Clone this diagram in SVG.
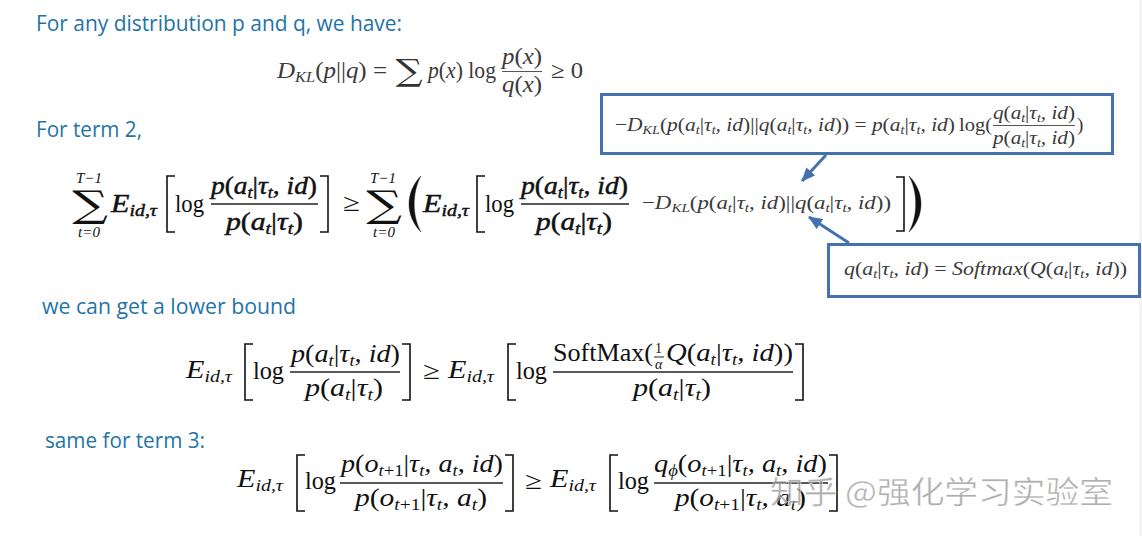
<svg xmlns="http://www.w3.org/2000/svg" width="1142" height="536" viewBox="0 0 1142 536">
<style>
text{font-family:"Liberation Serif","Times New Roman",serif;fill:#111;white-space:pre}
.h{font-family:"Open Sans","Noto Sans",sans-serif;font-size:22px;fill:#1f74a7}
.m{font-size:25px;font-style:italic}
.b{font-size:25px;font-style:italic;stroke:#111;stroke-width:.45}
.l{font-size:19px;font-style:italic;fill:#3a3a3a}
.e1{font-size:23px;font-style:italic;fill:#3a3a3a}
.r{font-size:25px}
.lim{font-size:15px;font-style:italic;text-anchor:middle}
.sig{font-size:50px;text-anchor:middle;font-family:"DejaVu Serif",serif}
.u{font-style:normal}
.s{font-size:66%}
.bar{stroke:#222;stroke-width:1.3;fill:none}
.lt{stroke:#555;stroke-width:1.1;fill:none}
.br{stroke:#111;stroke-width:1.6;fill:none}
.box{fill:#fff;stroke:#4472b0;stroke-width:3}
.arr{stroke:#4472b0;stroke-width:3;fill:none;marker-end:url(#ah)}
.wm{font-family:"Noto Sans CJK SC",sans-serif;font-size:31px;fill:#8c8c8c;fill-opacity:.7;stroke:#fff;stroke-width:.4}
</style>
<defs>
<marker id="ah" markerUnits="userSpaceOnUse" markerWidth="14" markerHeight="12" refX="13" refY="6" orient="auto"><path d="M0 0L14 6L0 12z" fill="#4472b0"/></marker>
</defs>
<rect width="1142" height="536" fill="#fff"/>
<rect x="1139" y="0" width="3" height="536" fill="#f4f4f4"/>

<g id="headings">
<text class="h" x="36" y="31" textLength="366" lengthAdjust="spacingAndGlyphs">For any distribution p and q, we have:</text>
<text class="h" x="36" y="137" textLength="106" lengthAdjust="spacingAndGlyphs">For term 2,</text>
<text class="h" x="42" y="314" textLength="254" lengthAdjust="spacingAndGlyphs">we can get a lower bound</text>
<text class="h" x="45" y="448" textLength="160" lengthAdjust="spacingAndGlyphs">same for term 3:</text>
</g>

<g id="kl-definition">
<text class="e1" x="277" y="78" textLength="110" lengthAdjust="spacingAndGlyphs">D<tspan class="s" dy="4">KL</tspan><tspan class="u" dy="-4">(</tspan>p<tspan class="u">||</tspan>q<tspan class="u">) =</tspan></text>
<text class="sig" transform="translate(409 81) scale(1 .8)" style="font-size:38px;fill:#333">∑</text>
<text class="e1" x="428" y="78" textLength="68" lengthAdjust="spacingAndGlyphs">p<tspan class="u">(</tspan>x<tspan class="u">) log</tspan></text>
<text class="e1" x="502" y="64" textLength="40" lengthAdjust="spacingAndGlyphs">p<tspan class="u">(</tspan>x<tspan class="u">)</tspan></text>
<path class="lt" d="M502 71.500H542"/>
<text class="e1" x="502" y="92" textLength="40" lengthAdjust="spacingAndGlyphs">q<tspan class="u">(</tspan>x<tspan class="u">)</tspan></text>
<text class="e1" x="551" y="78" textLength="32" lengthAdjust="spacingAndGlyphs"><tspan class="u">≥ 0</tspan></text>
</g>

<g id="term2-bound">
<text class="lim" x="89" y="183">T−1</text>
<text class="sig" transform="translate(90 217) scale(1 .74)">∑</text>
<text class="lim" x="89" y="237">t=0</text>
<text class="b" x="111" y="212" textLength="46" lengthAdjust="spacingAndGlyphs">E<tspan class="s" dy="4">id,τ</tspan></text>
<path class="br" d="M175 176H167V232H175"/>
<text class="r" x="175" y="212" textLength="29" lengthAdjust="spacingAndGlyphs">log</text>
<text class="b" x="211" y="194" textLength="106" lengthAdjust="spacingAndGlyphs">p<tspan class="u">(</tspan>a<tspan class="s" dy="4">t</tspan><tspan class="u" dy="-4">|</tspan>τ<tspan class="s" dy="4">t</tspan><tspan dy="-4">, id</tspan><tspan class="u">)</tspan></text>
<path class="bar" d="M211 204H318"/>
<text class="b" x="226" y="230" textLength="77" lengthAdjust="spacingAndGlyphs">p<tspan class="u">(</tspan>a<tspan class="s" dy="4">t</tspan><tspan class="u" dy="-4">|</tspan>τ<tspan class="s" dy="4">t</tspan><tspan class="u" dy="-4">)</tspan></text>
<path class="br" d="M320 176H328V232H320"/>
<text class="r" x="343" y="211" textLength="17" lengthAdjust="spacingAndGlyphs">≥</text>
<text class="lim" x="383" y="183">T−1</text>
<text class="sig" transform="translate(384 217) scale(1 .74)">∑</text>
<text class="lim" x="384" y="237">t=0</text>
<path d="M421 176C405 192 405 216 421 232C412 216 412 192 421 176Z" fill="#111" stroke="#111" stroke-width=".4"/>
<text class="b" x="423" y="212" textLength="46" lengthAdjust="spacingAndGlyphs">E<tspan class="s" dy="4">id,τ</tspan></text>
<path class="br" d="M485 176H477V232H485"/>
<text class="r" x="485" y="212" textLength="29" lengthAdjust="spacingAndGlyphs">log</text>
<text class="b" x="521" y="194" textLength="107" lengthAdjust="spacingAndGlyphs">p<tspan class="u">(</tspan>a<tspan class="s" dy="4">t</tspan><tspan class="u" dy="-4">|</tspan>τ<tspan class="s" dy="4">t</tspan><tspan dy="-4">, id</tspan><tspan class="u">)</tspan></text>
<path class="bar" d="M521 204H629"/>
<text class="b" x="536" y="230" textLength="76" lengthAdjust="spacingAndGlyphs">p<tspan class="u">(</tspan>a<tspan class="s" dy="4">t</tspan><tspan class="u" dy="-4">|</tspan>τ<tspan class="s" dy="4">t</tspan><tspan class="u" dy="-4">)</tspan></text>
<text class="l" x="642" y="209" textLength="249" lengthAdjust="spacingAndGlyphs"><tspan class="u">−</tspan>D<tspan class="s" dy="3">KL</tspan><tspan class="u" dy="-3">(</tspan>p<tspan class="u">(</tspan>a<tspan class="s" dy="3">t</tspan><tspan class="u" dy="-3">|</tspan>τ<tspan class="s" dy="3">t</tspan><tspan dy="-3">, id</tspan><tspan class="u">)||</tspan>q<tspan class="u">(</tspan>a<tspan class="s" dy="3">t</tspan><tspan class="u" dy="-3">|</tspan>τ<tspan class="s" dy="3">t</tspan><tspan dy="-3">, id</tspan><tspan class="u">))</tspan></text>
<path class="br" d="M896 177H904V231H896"/>
<path d="M909 176C925 192 925 216 909 232C918 216 918 192 909 176Z" fill="#111" stroke="#111" stroke-width=".4"/>
</g>

<g id="kl-callout">
<rect class="box" x="601.500" y="94.500" width="511" height="59"/>
<text class="l" x="615" y="131" textLength="340" lengthAdjust="spacingAndGlyphs"><tspan class="u">−</tspan>D<tspan class="s" dy="3">KL</tspan><tspan class="u" dy="-3">(</tspan>p<tspan class="u">(</tspan>a<tspan class="s" dy="3">t</tspan><tspan class="u" dy="-3">|</tspan>τ<tspan class="s" dy="3">t</tspan><tspan dy="-3">, id</tspan><tspan class="u">)||</tspan>q<tspan class="u">(</tspan>a<tspan class="s" dy="3">t</tspan><tspan class="u" dy="-3">|</tspan>τ<tspan class="s" dy="3">t</tspan><tspan dy="-3">, id</tspan><tspan class="u">)) = </tspan>p<tspan class="u">(</tspan>a<tspan class="s" dy="3">t</tspan><tspan class="u" dy="-3">|</tspan>τ<tspan class="s" dy="3">t</tspan><tspan dy="-3">, id</tspan><tspan class="u">)</tspan></text>
<text class="l" x="959" y="131" textLength="33" lengthAdjust="spacingAndGlyphs"><tspan class="u">log(</tspan></text>
<text class="l" x="993" y="119" textLength="82" lengthAdjust="spacingAndGlyphs">q<tspan class="u">(</tspan>a<tspan class="s" dy="3">t</tspan><tspan class="u" dy="-3">|</tspan>τ<tspan class="s" dy="3">t</tspan><tspan dy="-3">, id</tspan><tspan class="u">)</tspan></text>
<path class="lt" d="M993 125.500H1075"/>
<text class="l" x="993" y="144" textLength="82" lengthAdjust="spacingAndGlyphs">p<tspan class="u">(</tspan>a<tspan class="s" dy="3">t</tspan><tspan class="u" dy="-3">|</tspan>τ<tspan class="s" dy="3">t</tspan><tspan dy="-3">, id</tspan><tspan class="u">)</tspan></text>
<text class="l" x="1077" y="131"><tspan class="u">)</tspan></text>
</g>

<g id="softmax-callout">
<rect class="box" x="828.500" y="244.500" width="311" height="52"/>
<text class="l" x="844" y="275" textLength="283" lengthAdjust="spacingAndGlyphs">q<tspan class="u">(</tspan>a<tspan class="s" dy="3">t</tspan><tspan class="u" dy="-3">|</tspan>τ<tspan class="s" dy="3">t</tspan><tspan dy="-3">, id</tspan><tspan class="u">) = </tspan>Softmax<tspan class="u">(</tspan>Q<tspan class="u">(</tspan>a<tspan class="s" dy="3">t</tspan><tspan class="u" dy="-3">|</tspan>τ<tspan class="s" dy="3">t</tspan><tspan dy="-3">, id</tspan><tspan class="u">))</tspan></text>
</g>

<g id="connectors">
<path class="arr" d="M826 155L802 181"/>
<path class="arr" d="M849 243L809 217"/>
</g>

<g id="lower-bound">
<text class="m" x="186" y="378" textLength="46" lengthAdjust="spacingAndGlyphs">E<tspan class="s" dy="4">id,τ</tspan></text>
<path class="br" d="M253 344H245V400H253"/>
<text class="r" x="253" y="379" textLength="31" lengthAdjust="spacingAndGlyphs">log</text>
<text class="m" x="291" y="362" textLength="109" lengthAdjust="spacingAndGlyphs">p<tspan class="u">(</tspan>a<tspan class="s" dy="4">t</tspan><tspan class="u" dy="-4">|</tspan>τ<tspan class="s" dy="4">t</tspan><tspan dy="-4">, id</tspan><tspan class="u">)</tspan></text>
<path class="bar" d="M290 372H400"/>
<text class="m" x="305" y="396" textLength="78" lengthAdjust="spacingAndGlyphs">p<tspan class="u">(</tspan>a<tspan class="s" dy="4">t</tspan><tspan class="u" dy="-4">|</tspan>τ<tspan class="s" dy="4">t</tspan><tspan class="u" dy="-4">)</tspan></text>
<path class="br" d="M402 344H410V400H402"/>
<text class="r" x="423" y="379" textLength="17" lengthAdjust="spacingAndGlyphs">≥</text>
<text class="m" x="448" y="378" textLength="46" lengthAdjust="spacingAndGlyphs">E<tspan class="s" dy="4">id,τ</tspan></text>
<path class="br" d="M516 344H508V400H516"/>
<text class="r" x="516" y="379" textLength="31" lengthAdjust="spacingAndGlyphs">log</text>
<text class="r" x="553" y="361" textLength="100" lengthAdjust="spacingAndGlyphs">SoftMax(</text>
<text x="655" y="353" style="font-size:14px">1</text>
<path class="bar" style="stroke-width:1" d="M654 357H664"/>
<text x="655" y="369" style="font-size:14px;font-style:italic">α</text>
<text class="m" x="666" y="361" textLength="127" lengthAdjust="spacingAndGlyphs">Q<tspan class="u">(</tspan>a<tspan class="s" dy="4">t</tspan><tspan class="u" dy="-4">|</tspan>τ<tspan class="s" dy="4">t</tspan><tspan dy="-4">, id</tspan><tspan class="u">))</tspan></text>
<path class="bar" d="M553 372H793"/>
<text class="m" x="633" y="396" textLength="78" lengthAdjust="spacingAndGlyphs">p<tspan class="u">(</tspan>a<tspan class="s" dy="4">t</tspan><tspan class="u" dy="-4">|</tspan>τ<tspan class="s" dy="4">t</tspan><tspan class="u" dy="-4">)</tspan></text>
<path class="br" d="M795 344H803V400H795"/>
</g>

<g id="term3-bound">
<text class="m" x="237" y="487" textLength="46" lengthAdjust="spacingAndGlyphs">E<tspan class="s" dy="4">id,τ</tspan></text>
<path class="br" d="M305 455H297V511H305"/>
<text class="r" x="305" y="489" textLength="31" lengthAdjust="spacingAndGlyphs">log</text>
<text class="m" x="341" y="472" textLength="162" lengthAdjust="spacingAndGlyphs">p<tspan class="u">(</tspan>o<tspan class="s" dy="4">t<tspan class="u">+1</tspan></tspan><tspan class="u" dy="-4">|</tspan>τ<tspan class="s" dy="4">t</tspan><tspan dy="-4">, a</tspan><tspan class="s" dy="4">t</tspan><tspan dy="-4">, id</tspan><tspan class="u">)</tspan></text>
<path class="bar" d="M340 483H503"/>
<text class="m" x="355" y="506" textLength="132" lengthAdjust="spacingAndGlyphs">p<tspan class="u">(</tspan>o<tspan class="s" dy="4">t<tspan class="u">+1</tspan></tspan><tspan class="u" dy="-4">|</tspan>τ<tspan class="s" dy="4">t</tspan><tspan dy="-4">, a</tspan><tspan class="s" dy="4">t</tspan><tspan class="u" dy="-4">)</tspan></text>
<path class="br" d="M505 455H513V511H505"/>
<text class="r" x="525" y="489" textLength="17" lengthAdjust="spacingAndGlyphs">≥</text>
<text class="m" x="550" y="487" textLength="46" lengthAdjust="spacingAndGlyphs">E<tspan class="s" dy="4">id,τ</tspan></text>
<path class="br" d="M618 455H610V511H618"/>
<text class="r" x="618" y="489" textLength="31" lengthAdjust="spacingAndGlyphs">log</text>
<text class="m" x="654" y="472" textLength="173" lengthAdjust="spacingAndGlyphs">q<tspan class="s" dy="4">ϕ</tspan><tspan class="u" dy="-4">(</tspan>o<tspan class="s" dy="4">t<tspan class="u">+1</tspan></tspan><tspan class="u" dy="-4">|</tspan>τ<tspan class="s" dy="4">t</tspan><tspan dy="-4">, a</tspan><tspan class="s" dy="4">t</tspan><tspan dy="-4">, id</tspan><tspan class="u">)</tspan></text>
<path class="bar" d="M654 483H828"/>
<text class="m" x="675" y="506" textLength="131" lengthAdjust="spacingAndGlyphs">p<tspan class="u">(</tspan>o<tspan class="s" dy="4">t<tspan class="u">+1</tspan></tspan><tspan class="u" dy="-4">|</tspan>τ<tspan class="s" dy="4">t</tspan><tspan dy="-4">, a</tspan><tspan class="s" dy="4">t</tspan><tspan class="u" dy="-4">)</tspan></text>
<path class="br" d="M829 455H837V511H829"/>
</g>

<g id="watermark">
<text class="wm" x="770" y="503" textLength="343" lengthAdjust="spacingAndGlyphs">知乎 @强化学习实验室</text>
</g>
</svg>
